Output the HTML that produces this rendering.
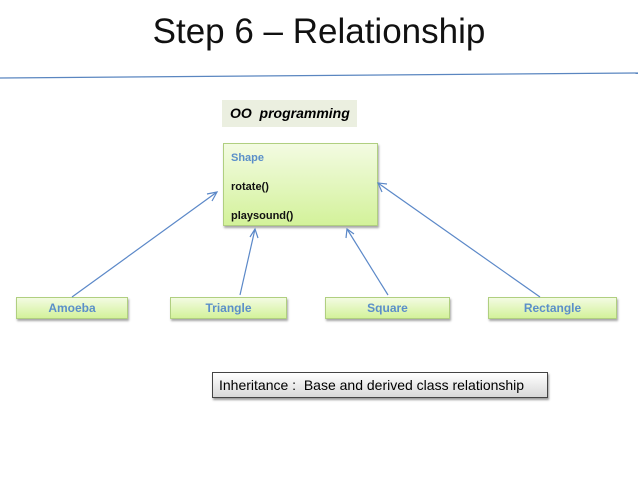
<!DOCTYPE html>
<html><head><style>
body{margin:0;width:638px;height:478px;background:#fff;position:relative;overflow:hidden;font-family:"Liberation Sans",sans-serif}
.t{position:absolute;left:0;width:638px;top:8px;text-align:center;font-size:35px;color:#111;line-height:48px}
.b{position:absolute;background:linear-gradient(#f3fbe2,#d3f29a);border:1px solid #b0cf80;box-shadow:1px 2px 2px rgba(0,0,0,.35);box-sizing:border-box;color:#5b8fc9;font-weight:bold;font-size:12px;text-align:center;line-height:20px}
</style></head><body>
<div class="t">Step 6 – Relationship</div>
<div style="position:absolute;left:222px;top:100px;width:135px;height:27px;background:#ebefe0;font-weight:bold;font-style:italic;font-size:14px;line-height:27px;padding-left:8px;box-sizing:border-box">OO&nbsp; programming</div>
<div class="b" style="left:223px;top:143px;width:155px;height:83px;text-align:left;padding:0 0 0 7px;font-size:11px;line-height:29px">Shape<br><span style="color:#111">rotate()</span><br><span style="color:#111">playsound()</span></div>
<div class="b" style="left:16px;top:297px;width:112px;height:22px">Amoeba</div>
<div class="b" style="left:170px;top:297px;width:117px;height:22px">Triangle</div>
<div class="b" style="left:325px;top:297px;width:125px;height:22px">Square</div>
<div class="b" style="left:488px;top:297px;width:129px;height:22px">Rectangle</div>
<svg width="638" height="478" style="position:absolute;left:0;top:0">
<line x1="0" y1="78" x2="638" y2="73" stroke="#5a86c0" stroke-width="1.2"/>
<g stroke="#5b88c8" stroke-width="1.2" fill="none">
<line x1="72" y1="297" x2="217" y2="192"/><polyline points="207,194 217,192 212,201"/>
<line x1="240" y1="295" x2="255" y2="229"/><polyline points="250,237 255,229 258,238"/>
<line x1="388" y1="295" x2="347" y2="229"/><polyline points="346,238 347,229 354,234"/>
<line x1="540" y1="297" x2="378" y2="183"/><polyline points="382,192 378,183 387,184"/>
</g>
</svg>
<div style="position:absolute;left:212px;top:372px;width:336px;height:26px;background:linear-gradient(#fff,#d8d8d8);border:1px solid #444;box-shadow:1px 2px 2px rgba(0,0,0,.4);box-sizing:border-box;font-size:14px;line-height:24px;padding-left:6px">Inheritance :&nbsp; Base and derived class relationship</div>
</body></html>
